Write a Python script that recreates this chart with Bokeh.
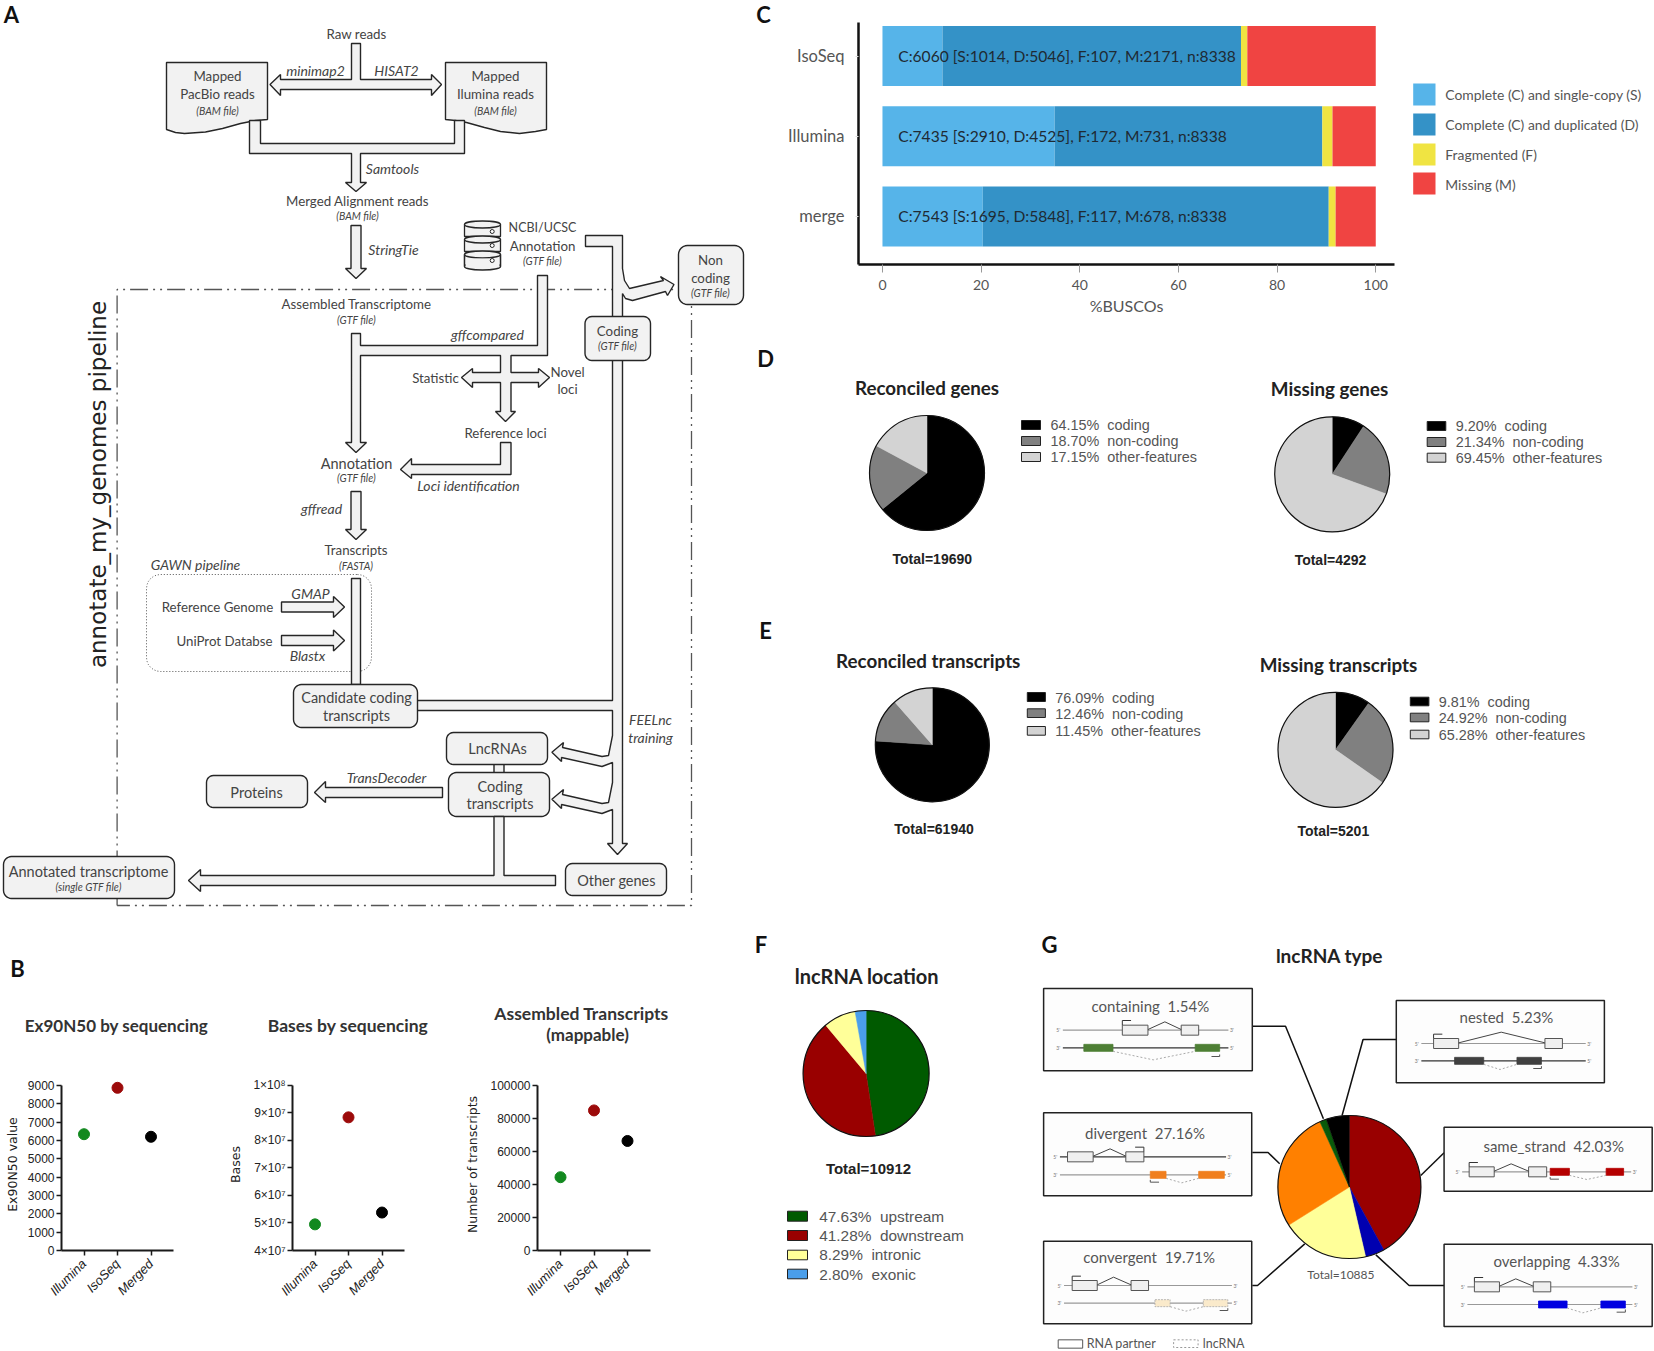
import math
from bokeh.plotting import figure
from bokeh.layouts import row, column
from bokeh.models import Range1d, FixedTicker
from bokeh.core.properties import value
from bokeh.embed import file_html
from bokeh.resources import INLINE

# ---------- data ----------
seq_labels = ["Illumina", "IsoSeq", "Merged"]
seq_colors = ["#12891f", "#9c0a0a", "#000000"]
ex90n50 = [6340, 8870, 6200]
bases = [4.95e7, 8.84e7, 5.38e7]
transcripts = [44400, 84850, 66350]
ex_ticks = [0, 1000, 2000, 3000, 4000, 5000, 6000, 7000, 8000, 9000]
bases_ticks = [4e7, 5e7, 6e7, 7e7, 8e7, 9e7, 1e8]
bases_tick_labels = ["4×10⁷", "5×10⁷", "6×10⁷", "7×10⁷", "8×10⁷", "9×10⁷", "1×10⁸"]
tr_ticks = [0, 20000, 40000, 60000, 80000, 100000]

busco_sets = ["merge", "Illumina", "IsoSeq"]
busco_s = [1695, 2910, 1014]
busco_d = [5848, 4525, 5046]
busco_f = [117, 172, 107]
busco_m = [678, 731, 2171]
busco_n = 8338
busco_colors = ["#56B4E9", "#3492C7", "#F0E442", "#F04442"]
busco_names = ["Complete (C) and single-copy (S)", "Complete (C) and duplicated (D)", "Fragmented (F)", "Missing (M)"]

feature_labels = ["coding", "non-coding", "other-features"]
feature_colors = ["#000000", "#808080", "#d3d3d3"]
rec_genes = [64.15, 18.70, 17.15]
mis_genes = [9.20, 21.34, 69.45]
rec_trans = [76.09, 12.46, 11.45]
mis_trans = [9.81, 24.92, 65.28]

loc_labels = ["upstream", "downstream", "intronic", "exonic"]
loc_values = [47.63, 41.28, 8.29, 2.80]
loc_colors = ["#005a00", "#990000", "#ffff99", "#4a9eea"]

type_labels = ["same_strand", "overlapping", "convergent", "divergent", "containing", "nested"]
type_values = [42.03, 4.33, 19.71, 27.16, 1.54, 5.23]
type_colors = ["#990000", "#0000b0", "#ffff99", "#ff8000", "#0a5a0a", "#000000"]

DIA = "Lato"
ARI = "Liberation Sans"
FILL = "#f2f2f2"
EDGE = "#262626"
TXT = "#444444"
LEFT_SPLIT = 1065


def canvas(x0, y0, x1, y1):
    p = figure(width=x1 - x0, height=y1 - y0, x_range=Range1d(x0, x1), y_range=Range1d(y1, y0),
               output_backend="svg", toolbar_location=None, x_axis_type=None, y_axis_type=None,
               min_border=0, outline_line_color=None, background_fill_color=None, border_fill_color=None)
    p.grid.visible = False
    return p


def T(p, x, y, s, size=13.3, italic=False, bold=False, color=TXT, font=DIA, align="center", angle=0.0):
    style = "bold" if bold else ("italic" if italic else "normal")
    p.text(x=[x], y=[y], text=[s], text_font=value(font), text_font_size=f"{size}px",
           text_font_style=style, text_color=color, text_align=align, text_baseline="middle", angle=angle)


def I(p, x, y, s, size=14):
    T(p, x, y, s, size, italic=True)


def poly(p, pts, fill=FILL, edge=EDGE, lw=1.4, dash="solid"):
    p.patch([a for a, _ in pts], [b for _, b in pts], fill_color=fill, line_color=edge, line_width=lw, line_dash=dash)


def rbox_pts(x0, y0, x1, y1, r=8):
    pts = []
    for cx, cy, a0 in ((x1 - r, y0 + r, -90), (x1 - r, y1 - r, 0), (x0 + r, y1 - r, 90), (x0 + r, y0 + r, 180)):
        for k in range(7):
            t = math.radians(a0 + 15 * k)
            pts.append((cx + r * math.cos(t), cy + r * math.sin(t)))
    return pts


def rbox(p, x0, y0, x1, y1, r=8, **kw):
    poly(p, rbox_pts(x0, y0, x1, y1, r), **kw)


def darrow(p, xc, y0, y1, hw=5, head=10, hh=10.5):
    poly(p, [(xc - hw, y0), (xc + hw, y0), (xc + hw, y1 - head), (xc + hh, y1 - head), (xc, y1),
             (xc - hh, y1 - head), (xc - hw, y1 - head)])


def pie(p, cx, cy, r, vals, colors):
    total = sum(vals)
    cum = 0.0
    st, en = [], []
    for v in vals:
        st.append(math.pi / 2 - 2 * math.pi * cum / total)
        cum += v
        en.append(math.pi / 2 - 2 * math.pi * cum / total)
    n = len(vals)
    p.wedge(x=[cx] * n, y=[cy] * n, radius=r, start_angle=st, end_angle=en, direction="clock",
            fill_color=colors, line_color=colors, line_width=0.5)
    p.circle(x=[cx], y=[cy], radius=r, fill_color=None, line_color="#111111", line_width=1.2)


# ---------- panel A ----------
a = canvas(0, 0, 745, LEFT_SPLIT)
T(a, 11, 14, "A", 22, bold=True, color="#111111")

a.line([116.6, 116.6, 691, 691, 116.6], [905, 289, 289, 905, 905], line_color="#555555", line_width=1.3,
       line_dash="18 5 2 5 2 5")
T(a, 97, 484, "annotate_my_genomes pipeline", 23, font="DejaVu Sans", color="#222222", angle=math.pi / 2)

poly(a, [(351, 43), (360, 43), (360, 79), (431, 79), (431, 74), (441, 84), (431, 95), (431, 89), (280, 89),
         (280, 95), (269.5, 84), (280, 74), (280, 79), (351, 79)])
poly(a, [(166, 62), (267, 62), (267, 119), (255, 120), (240, 123), (222, 128), (205, 131.5), (184, 133),
         (175, 132), (166, 129)])
poly(a, [(445, 62), (546, 62), (546, 129), (535, 131), (519, 133), (500, 131), (484, 127), (466, 122), (455, 120), (445, 119)])
poly(a, [(249, 120), (260, 120), (260, 143), (454, 143), (454, 120), (464, 120), (464, 153), (360, 153), (360, 182),
         (366, 182), (355.5, 191), (345, 182), (351, 182), (351, 153), (249, 153)])
darrow(a, 355.5, 225, 278)

T(a, 356, 33, "Raw reads")
for xc, l2 in ((217, "PacBio reads"), (495, "Ilumina reads")):
    T(a, xc, 75, "Mapped")
    T(a, xc, 93, l2)
    I(a, xc, 110, "(BAM file)", 10.5)
I(a, 315, 70, "minimap2")
I(a, 396, 70, "HISAT2")
I(a, 392, 168, "Samtools")
T(a, 357, 200, "Merged Alignment reads")
I(a, 357, 215, "(BAM file)", 10.5)
I(a, 393, 249, "StringTie")

for yy in (224, 239, 254):
    a.quad(left=[464], right=[500], top=[yy], bottom=[yy + 12], fill_color=FILL, line_color=EDGE, line_width=1.3)
    a.ellipse(x=[482], y=[yy], width=36, height=7, fill_color=FILL, line_color=EDGE, line_width=1.3)
a.ellipse(x=[482], y=[266], width=36, height=7, fill_color=FILL, line_color=EDGE, line_width=1.3)
a.quad(left=[465], right=[499], top=[258], bottom=[266], fill_color=FILL, line_color=None)
a.line([464, 464], [254, 266], line_color=EDGE, line_width=1.3)
a.line([500, 500], [254, 266], line_color=EDGE, line_width=1.3)
a.circle(x=[491.7, 491.7, 491.7], y=[231, 245, 260], radius=2, fill_color="white", line_color=EDGE, line_width=1)
T(a, 542, 227, "NCBI/UCSC", 12.5)
T(a, 542, 245, "Annotation", 13.3)
I(a, 542, 260, "(GTF file)", 10.5)

trunk = [(585, 235), (622, 235), (622, 268), (624, 280), (629, 288), (663, 280), (660, 276), (673.5, 284), (667, 295),
         (665, 291), (632, 300), (625, 298), (622, 293),
         (622, 843), (627, 843), (617, 854), (607, 843), (612, 843), (612, 809), (601.5, 813), (561, 804), (561, 808),
         (551.4, 798.7), (563, 789), (562, 794), (601.5, 803), (608, 802), (612, 782), (612, 762), (601.5, 766),
         (561, 757), (561, 761), (551.4, 751.7), (563, 742), (562, 747), (601.5, 756), (608, 755), (612, 735),
         (612, 710), (415, 710), (415, 700), (612, 700), (612, 246), (585, 246)]
poly(a, trunk)

rbox(a, 584.5, 316, 650, 360, 7)
T(a, 617, 330, "Coding")
I(a, 617, 345, "(GTF file)", 10.5)
rbox(a, 678, 245, 743, 304, 9)
T(a, 710, 259, "Non")
T(a, 710, 277, "coding")
I(a, 710, 292, "(GTF file)", 10.5)

T(a, 356, 303, "Assembled Transcriptome")
I(a, 356, 319, "(GTF file)", 10.5)
poly(a, [(537, 275), (547, 275), (547, 355), (510.5, 355), (510.5, 372), (538, 372), (538, 368), (549, 377), (538, 387),
         (538, 382), (510.5, 382), (510.5, 411), (515, 411), (505, 421), (495, 411), (500, 411), (500, 382), (472, 382),
         (472, 387), (461, 377), (472, 368), (472, 372), (500, 372), (500, 355), (360, 355), (360, 442), (366, 442),
         (355.5, 452), (345, 442), (351, 442), (351, 333), (360, 333), (360, 345), (537, 345)])
I(a, 487, 334, "gffcompared")
T(a, 435, 377, "Statistic")
T(a, 567, 371, "Novel")
T(a, 567, 388, "loci")
T(a, 505, 432, "Reference loci")
T(a, 356, 463, "Annotation", 14.5)
I(a, 356, 477, "(GTF file)", 10.5)
poly(a, [(500, 442), (510.5, 442), (510.5, 474), (411, 474), (411, 478), (400, 469), (411, 458), (411, 464), (500, 464)])
I(a, 468, 485, "Loci identification")
darrow(a, 355.5, 491, 539)
I(a, 321, 508, "gffread")
T(a, 355.5, 549, "Transcripts")
I(a, 355.5, 565, "(FASTA)", 10.5)

rbox(a, 146, 574, 371, 671, 14, fill=None, edge="#555555", lw=1, dash="1 2")
I(a, 195, 564, "GAWN pipeline")
a.quad(left=[351], right=[360], top=[578], bottom=[684], fill_color=FILL, line_color=EDGE, line_width=1.4)
for yc in (606.5, 640):
    poly(a, [(281, yc - 5), (333, yc - 5), (333, yc - 10.5), (344, yc), (333, yc + 10.5), (333, yc + 5), (281, yc + 5)])
T(a, 217, 606, "Reference Genome")
T(a, 224, 640, "UniProt Databse")
I(a, 310, 593, "GMAP")
I(a, 307, 655, "Blastx")

rbox(a, 293, 684, 417, 727, 8)
T(a, 356, 697, "Candidate coding", 14.5)
T(a, 356, 715, "transcripts", 14.5)
I(a, 650, 719, "FEELnc")
I(a, 650, 737, "training")

a.quad(left=[493.5], right=[503.5], top=[760], bottom=[776], fill_color=FILL, line_color=EDGE, line_width=1.4)
rbox(a, 446, 732, 547, 764, 7)
T(a, 497, 748, "LncRNAs", 14.5)
rbox(a, 448, 772, 549, 816, 8)
T(a, 499.5, 786, "Coding", 14.5)
T(a, 499.5, 803, "transcripts", 14.5)
rbox(a, 206, 775, 307, 807, 7)
T(a, 256, 792, "Proteins", 14.5)
poly(a, [(442, 787), (325, 787), (325, 781), (314, 792), (325, 802), (325, 797), (442, 797)])
I(a, 386, 777, "TransDecoder")

poly(a, [(555, 875), (503.5, 875), (503.5, 816), (493.5, 816), (493.5, 875), (200, 875), (200, 869), (188, 880),
         (200, 891), (200, 885), (555, 885)])
rbox(a, 565, 863, 666, 895, 7)
T(a, 616, 880, "Other genes", 14.5)
rbox(a, 3, 856, 174, 898, 8)
T(a, 88, 871, "Annotated transcriptome", 14.5)
I(a, 88, 886, "(single GTF file)", 10.5)

# panel B letter and titles share the upper canvas
T(a, 17, 968, "B", 22, bold=True, color="#111111")
T(a, 116, 1025, "Ex90N50 by sequencing", 17, bold=True, color="#333333")
T(a, 347.5, 1025, "Bases by sequencing", 17.5, bold=True, color="#333333")
T(a, 581, 1013, "Assembled Transcripts", 17.5, bold=True, color="#333333")
T(a, 587, 1034, "(mappable)", 17, bold=True, color="#333333")


# ---------- panel B ----------
def dot_chart(vals, yrange, yticks, ylabel, fx0, fx1, frame_l, frame_r, frame_t, frame_b, standoff, overrides=None):
    pad = ((frame_r - frame_l) / 33.5 - (len(seq_labels) - 1)) / 2
    xs = list(range(len(seq_labels)))
    extra = 7  # head room so the topmost dot is not clipped; the axis line stops at its last tick
    y_hi = yrange[0] + (yrange[1] - yrange[0]) * (frame_b - frame_t + extra) / (frame_b - frame_t)
    p = figure(width=fx1 - fx0, height=1351 - LEFT_SPLIT, x_range=Range1d(-pad, xs[-1] + pad),
               y_range=Range1d(yrange[0], y_hi), output_backend="svg", toolbar_location=None, outline_line_color=None,
               min_border_left=frame_l - fx0, min_border_right=fx1 - frame_r,
               min_border_top=frame_t - extra - LEFT_SPLIT, min_border_bottom=1351 - frame_b)
    p.grid.visible = False
    p.scatter(x=xs, y=vals, size=11, color=seq_colors)
    ax, ay = p.xaxis[0], p.yaxis[0]
    for axis in (ax, ay):
        axis.axis_line_width = 2
        axis.axis_line_color = "#1a1a1a"
        axis.major_tick_line_color = "#1a1a1a"
        axis.major_tick_line_width = 1.5
        axis.major_tick_in = 0
        axis.major_tick_out = 5
        axis.minor_tick_line_color = None
        axis.major_label_text_font = ARI
        axis.major_label_text_color = "#222222"
        axis.major_label_text_font_size = "12px"
    ax.ticker = FixedTicker(ticks=xs)
    ax.major_label_overrides = {i: s for i, s in enumerate(seq_labels)}
    ax.major_label_orientation = math.pi / 4
    ax.major_label_text_font_style = "italic"
    ax.major_label_text_font_size = "13px"
    ax.major_label_standoff = 6
    ay.major_label_standoff = 2
    ay.ticker = FixedTicker(ticks=yticks)
    ay.bounds = (yrange[0], yrange[1])
    if overrides:
        ay.major_label_overrides = overrides
    else:
        ay.formatter.use_scientific = False
    ay.axis_label = ylabel
    ay.axis_label_text_font = "DejaVu Sans"
    ay.axis_label_text_font_style = "normal"
    ay.axis_label_text_font_size = "12.5px"
    ay.axis_label_text_color = "#222222"
    ay.axis_label_standoff = standoff
    return p


c1 = dot_chart(ex90n50, (0, 9000), ex_ticks, "Ex90N50 value", 0, 220, 61, 173, 1083, 1250, 5)
c2 = dot_chart(bases, (4e7, 1e8), bases_ticks, "Bases", 220, 460, 292, 404, 1083, 1250, 7,
               dict(zip(bases_ticks, bases_tick_labels)))
c3 = dot_chart(transcripts, (0, 100000), tr_ticks, "Number of transcripts", 460, 745, 537, 650, 1085, 1252, 7)

# ---------- panel C ----------
c_strip = canvas(745, 0, 1400, 30)
T(c_strip, 763, 13.5, "C", 22, bold=True, color="#111111")
c = figure(width=655, height=298, x_range=Range1d(-4.86, 103.8), y_range=Range1d(-0.6, 2.418),
           output_backend="svg", toolbar_location=None, outline_line_color=None,
           min_border_left=113, min_border_right=6, min_border_top=0, min_border_bottom=56,
           margin=(-8, 0, 0, 0), background_fill_color=None, border_fill_color=None)
c.grid.visible = False
ypos = list(range(len(busco_sets)))
cum = [0.0] * len(busco_sets)
for vals, col in zip((busco_s, busco_d, busco_f, busco_m), busco_colors):
    pct = [v / busco_n * 100 for v in vals]
    if col == busco_colors[3]:
        right = [100.0] * len(pct)
    else:
        right = [u + v for u, v in zip(cum, pct)]
    c.hbar(y=ypos, left=cum, right=right, height=0.748, color=col, line_color=None)
    cum = right
for i, yc in enumerate(ypos):
    C = busco_s[i] + busco_d[i]
    c.text(x=[3.2], y=[yc], text=[f"C:{C} [S:{busco_s[i]}, D:{busco_d[i]}], F:{busco_f[i]}, M:{busco_m[i]}, n:{busco_n}"],
           text_font=value(DIA), text_font_size="15.6px", text_color="#1f2a33", text_baseline="middle")
xa, ya = c.xaxis[0], c.yaxis[0]
for axis in (xa, ya):
    axis.axis_line_width = 2.5
    axis.axis_line_color = "#111111"
    axis.minor_tick_line_color = None
    axis.major_tick_in = 0
    axis.major_label_text_font = DIA
    axis.major_label_text_color = "#555555"
xa.ticker = FixedTicker(ticks=[0, 20, 40, 60, 80, 100])
xa.major_tick_out = 8
xa.major_tick_line_color = "#999999"
xa.major_label_text_font_size = "14px"
xa.major_label_standoff = 7
xa.axis_label = "%BUSCOs"
xa.axis_label_text_font = DIA
xa.axis_label_text_font_style = "normal"
xa.axis_label_text_font_size = "16px"
xa.axis_label_text_color = "#555555"
xa.axis_label_standoff = 3
ya.ticker = FixedTicker(ticks=ypos)
ya.major_label_overrides = {i: s for i, s in enumerate(busco_sets)}
ya.major_tick_out = 3
ya.major_tick_line_color = "#dddddd"
ya.major_label_text_font_size = "16.5px"
ya.major_label_standoff = 11
ya.major_label_text_baseline = "alphabetic"

cl = canvas(1400, 0, 1654, 320)
for (y0, y1, ty), col, nm in zip(((83, 105, 94.3), (113, 135, 124), (143, 165, 154), (172, 194, 184)), busco_colors, busco_names):
    cl.quad(left=[1412.7], right=[1435], top=[y0], bottom=[y1], fill_color=col, line_color=None)
    T(cl, 1444.8, ty, nm, 13.9, color="#555555", align="left")

# ---------- panels D-G ----------
r = canvas(745, 320, 1654, 1351)
T(r, 765, 358, "D", 22, bold=True, color="#111111")
T(r, 765, 630, "E", 22, bold=True, color="#111111")


def stat_legend(labels, vals, colors, sx0, sx1, rows, tx, size=14.4, fmt="{:.2f}%"):
    for lab, v, col, (y0, y1, ty) in zip(labels, vals, colors, rows):
        r.quad(left=[sx0], right=[sx1], top=[y0], bottom=[y1], fill_color=col, line_color="#222222", line_width=1)
        T(r, tx, ty, fmt.format(v) + " \u00a0" + lab, size, color="#555555", font=ARI, align="left")


def feature_pie(title, tx, ty, vals, cx, cy, rad, total, totx, toty, sx0, sx1, rows, ltx):
    T(r, tx, ty, title, 18.8, bold=True, color="#222222")
    pie(r, cx, cy, rad, vals, feature_colors)
    stat_legend(feature_labels, vals, feature_colors, sx0, sx1, rows, ltx)
    T(r, totx, toty, total, 14, bold=True, color="#222222", font=ARI)


feature_pie("Reconciled genes", 926.5, 387, rec_genes, 926.5, 472.5, 57.5, "Total=19690", 931.8, 558.7, 1021, 1040,
            ((420, 429, 424.7), (436, 445, 440.7), (452, 461, 456.3)), 1050)
feature_pie("Missing genes", 1329, 388, mis_genes, 1331.7, 473.8, 57.5, "Total=4292", 1330, 559.3, 1426.7, 1445.3,
            ((421, 430, 425.3), (437, 446, 441.3), (452.7, 461.7, 457)), 1455.3)
feature_pie("Reconciled transcripts", 927.7, 660.3, rec_trans, 931.8, 744.3, 57, "Total=61940", 933.5, 828.3, 1026.8, 1044.9,
            ((692, 701, 697), (708.3, 717, 713), (726, 734.7, 730.3)), 1054.8)
feature_pie("Missing transcripts", 1338, 663.7, mis_trans, 1335, 749.3, 57.5, "Total=5201", 1332.8, 830.3, 1409.8, 1428.4,
            ((696.7, 705.3, 701), (712.7, 721.3, 717.3), (729.7, 738.3, 734.3)), 1438.3)

T(r, 760.4, 944, "F", 22, bold=True, color="#111111")
T(r, 866.5, 975.3, "lncRNA location", 20, bold=True, color="#222222")
pie(r, 865.6, 1073, 63, loc_values, loc_colors)
T(r, 868, 1168, "Total=10912", 15, bold=True, color="#222222", font=ARI)
stat_legend(loc_labels, loc_values, loc_colors, 787, 807,
            ((1210.7, 1220.7, 1215.7), (1230, 1240, 1235), (1249.7, 1259.3, 1254.3), (1268.7, 1278.3, 1273.7)), 818.7, size=15.4)

T(r, 1049, 944, "G", 22, bold=True, color="#111111")
T(r, 1329, 954.7, "lncRNA type", 19, bold=True, color="#222222")


def zx(v):
    return 740 + v / 1.7155


def zy(v):
    return 920 + v / 3


def zpts(pts):
    return [(zx(a_), zy(b_)) for a_, b_ in pts]


def zline(pts, color="#222222", lw=1.5, dash="solid"):
    q = zpts(pts)
    r.line([a_ for a_, _ in q], [b_ for _, b_ in q], line_color=color, line_width=lw, line_dash=dash)


for pts in ([(878, 317), (935, 317), (1000, 595)], [(1125, 357), (1068, 357), (1032, 585)],
            [(878, 696), (905, 696), (925, 730)], [(1207, 697), (1167, 765)],
            [(878, 1095), (887, 1095), (968, 970)], [(1207, 1095), (1147, 1095), (1090, 1003)]):
    zline(pts, "#111111", 1.5)

pie(r, 1348.9, 1186.5, 71.5, type_values, type_colors)
T(r, 1340.4, 1273.7, "Total=10885", 12, color="#555555")


def gene_box(name, box, tx, ty, top_y, xs, ex1, ex2, vpeak, arrow, bot_y, bx1, bx2, bvpeak, barrow, color, dashed=False,
             top_dark=False, bot_dark=True, same_line=False):
    i = type_labels.index(name)
    q = zpts([(box[0], box[1]), (box[2], box[3])])
    r.quad(left=[q[0][0]], right=[q[1][0]], top=[q[0][1]], bottom=[q[1][1]], fill_color="#fdfdfd", line_color="#222222", line_width=1.5)
    T(r, zx(tx), zy(ty), f"{name} \u00a0{type_values[i]:.2f}%", 15, color="#555555")
    zline([(xs[0], top_y), (xs[1], top_y)], "#333333" if top_dark else "#999999", 1.2)
    for e in (ex1, ex2):
        q = zpts([(e[0], top_y - 15), (e[1], top_y + 15)])
        r.quad(left=[q[0][0]], right=[q[1][0]], top=[q[0][1]], bottom=[q[1][1]], fill_color="#f0f0f0", line_color="#555555", line_width=1)
    zline([(ex1[1], top_y - 2), (vpeak[0], vpeak[1]), (ex2[0], top_y - 2)], "#444444", 1)
    zline(arrow, "#333333", 1)
    T(r, zx(xs[0] - 8), zy(top_y), "5'", 5, color="#777777")
    T(r, zx(xs[1] + 6), zy(top_y), "3'", 5, color="#777777")
    if not same_line:
        zline([(xs[0], bot_y), (xs[1], bot_y)], "#333333" if bot_dark else "#999999", 1.2)
        T(r, zx(xs[0] - 8), zy(bot_y), "3'", 5, color="#777777")
        T(r, zx(xs[1] + 6), zy(bot_y), "5'", 5, color="#777777")
    h = 10.5
    for e in (bx1, bx2):
        q = zpts([(e[0], bot_y - h), (e[1], bot_y + h)])
        r.quad(left=[q[0][0]], right=[q[1][0]], top=[q[0][1]], bottom=[q[1][1]], fill_color=color,
               line_color="#aaaaaa" if dashed else color, line_width=0.8, line_dash="2 1" if dashed else "solid")
    zline([(bx1[1], bot_y + h), (bvpeak[0], bvpeak[1]), (bx2[0], bot_y + h)], "#aaaaaa", 1, "2 2")
    zline(barrow, "#555555", 1)


gene_box("containing", (520, 204, 878, 451), 703, 256, 329, (553, 837), (655, 699), (756, 786), (728, 304),
         [(655, 314), (655, 300), (670, 300)], 382, (589, 639), (780, 822), (708, 418),
         [(822, 402), (822, 408), (808, 408)], "#4e7f35", top_dark=False)
gene_box("nested", (1125, 240, 1482, 487), 1314, 289, 369, (1168, 1450), (1189, 1232), (1380, 1410), (1305, 335),
         [(1189, 354), (1189, 341), (1204, 341)], 421, (1225, 1275), (1332, 1374), (1303, 447),
         [(1374, 437), (1374, 444), (1360, 444)], "#404040")
gene_box("divergent", (520, 577, 877, 826), 694, 636, 709, (548, 833), (561, 605), (661, 692), (634, 685),
         [(692, 694), (692, 680), (677, 680)], 763, (703, 730), (786, 830), (757, 787),
         [(703, 778), (703, 785), (718, 785)], "#f07f1e", top_dark=True, bot_dark=False)
gene_box("same_strand", (1207, 620, 1564, 812), 1395, 677, 754, (1238, 1528), (1250, 1293), (1352, 1383), (1322, 730),
         [(1250, 739), (1250, 726), (1265, 726)], 754, (1389, 1422), (1485, 1515), (1452, 777),
         [(1389, 770), (1389, 776), (1404, 776)], "#b50000", same_line=True)
gene_box("convergent", (520, 962, 877, 1210), 701, 1008, 1095, (555, 843), (569, 612), (670, 700), (640, 1070),
         [(569, 1080), (569, 1067), (584, 1067)], 1148, (711, 737), (794, 836), (764, 1172),
         [(836, 1163), (836, 1170), (822, 1170)], "#faeacb", dashed=True, bot_dark=False)
gene_box("overlapping", (1207, 971, 1564, 1218), 1400, 1021, 1099, (1247, 1530), (1259, 1302), (1360, 1390), (1330, 1075),
         [(1259, 1084), (1259, 1071), (1274, 1071)], 1152, (1369, 1418), (1476, 1518), (1445, 1177),
         [(1518, 1167), (1518, 1175), (1503, 1175)], "#0000e0", bot_dark=False)

q = zpts([(545, 1258), (587, 1283)])
r.quad(left=[q[0][0]], right=[q[1][0]], top=[q[0][1]], bottom=[q[1][1]], fill_color="white", line_color="#555555", line_width=1)
q = zpts([(743, 1258), (785, 1281)])
r.quad(left=[q[0][0]], right=[q[1][0]], top=[q[0][1]], bottom=[q[1][1]], fill_color="white", line_color="#999999", line_width=1, line_dash="2 2")
T(r, zx(594), zy(1270), "RNA partner", 12.5, color="#555555", align="left")
T(r, zx(793), zy(1269), "lncRNA", 12.5, color="#555555", align="left")

# ---------- page ----------
left_col = column(a, row(c1, c2, c3, spacing=0), spacing=0)
right_col = column(row(column(row(c_strip, spacing=0), c, spacing=0), cl, spacing=0), r, spacing=0)
page = row(left_col, right_col, spacing=0)
open("out.html", "w").write(file_html(page, INLINE))
